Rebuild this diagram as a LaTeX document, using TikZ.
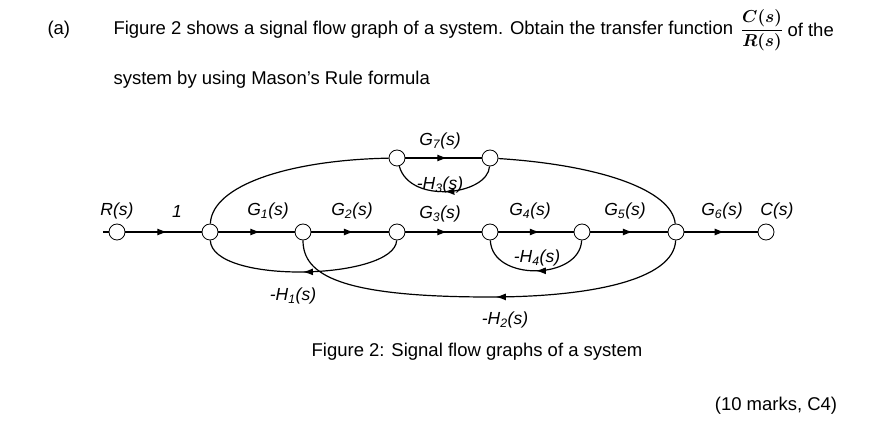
\documentclass[tikz,border=0pt]{standalone}
\usepackage{amsmath}
\usepackage{fontspec}
\setmainfont{Liberation Sans}
\usetikzlibrary{arrows.meta,decorations.markings}
\begin{document}
\begin{tikzpicture}[x=1pt,y=-1pt,
  sn/.style={circle,draw,thick,fill=white,minimum size=16pt,inner sep=0pt},
  br/.style={line width=1.2pt,postaction={decorate},decoration={markings,mark=at position #1 with {\arrow{Latex[length=10pt,width=7pt]}}}},
  br/.default=0.55,
  lab/.style={font=\fontsize{17.5}{20}\selectfont\itshape},
  txt/.style={font=\fontsize{18.5}{22}\selectfont,anchor=west}]
\useasboundingbox (0,0) rectangle (871,430);
% text
\node[txt] (a) at (44,30) {(a)};
\node[txt] (t1) at (110,30) {Figure 2 shows a signal flow graph of a system. Obtain the transfer function};
\node[font=\fontsize{18}{22}\selectfont] (fr) at (762,30) {$\dfrac{\boldsymbol{C(s)}}{\boldsymbol{R(s)}}$};
\node[txt] (t2) at (784,30) {of the};
\node[txt] (t3) at (110,80) {system by using Mason's Rule formula};
\node[font=\fontsize{18.5}{22}\selectfont] (cap) at (477,352) {Figure 2: Signal flow graphs of a system};
\node[font=\fontsize{18.5}{22}\selectfont] (mk) at (776,406) {(10 marks, C4)};
% nodes
\coordinate (in) at (103,232);
\node[sn] (R) at (117,232) {};
\node[sn] (n1) at (210,232) {};
\node[sn] (n2) at (303,232) {};
\node[sn] (n3) at (397,232) {};
\node[sn] (n4) at (490,232) {};
\node[sn] (n5) at (582,232) {};
\node[sn] (n6) at (676,232) {};
\node[sn] (C) at (766,232) {};
\node[sn] (T1) at (397,158) {};
\node[sn] (T2) at (490,158) {};
% edges
\draw[line width=1.2pt] (in) -- (R);
\draw[br] (R) -- (n1);
\draw[br] (n1) -- (n2);
\draw[br] (n2) -- (n3);
\draw[br] (n3) -- (n4);
\draw[br] (n4) -- (n5);
\draw[br] (n5) -- (n6);
\draw[br] (n6) -- (C);
\draw[br] (T1) -- (T2);
\draw[line width=1.2pt] (n1) .. controls (212,185) and (290,160) .. (T1);
\draw[line width=1.2pt] (T2) .. controls (600,165) and (672,190) .. (n6);
\draw[br=0.5] (T2) .. controls (488,195) and (410,205) .. (T1);
\draw[br=0.5] (n3) .. controls (395,280) and (212,285) .. (n1);
\draw[br=0.5] (n5) .. controls (580,280) and (492,282) .. (n4);
\draw[br=0.48] (n6) .. controls (674,280) and (590,297) .. (490,297)
  .. controls (340,297) and (303,275) .. (n2);
% labels
\node[lab] (lR) at (117,211) {R(s)};
\node[lab] (l1) at (177,211) {1};
\node[lab] (lG1) at (268,211) {G\textsubscript{1}(s)};
\node[lab] (lG2) at (352,211) {G\textsubscript{2}(s)};
\node[lab] (lG3) at (440,214) {G\textsubscript{3}(s)};
\node[lab] (lG4) at (530,211) {G\textsubscript{4}(s)};
\node[lab] (lG5) at (625,211) {G\textsubscript{5}(s)};
\node[lab] (lG6) at (722,211) {G\textsubscript{6}(s)};
\node[lab] (lC) at (777,211) {C(s)};
\node[lab] (lG7) at (440,141) {G\textsubscript{7}(s)};
\node[lab] (lH3) at (440,185) {-H\textsubscript{3}(s)};
\node[lab] (lH4) at (537,258) {-H\textsubscript{4}(s)};
\node[lab] (lH1) at (293,296) {-H\textsubscript{1}(s)};
\node[lab] (lH2) at (505,320) {-H\textsubscript{2}(s)};
\end{tikzpicture}
\end{document}
